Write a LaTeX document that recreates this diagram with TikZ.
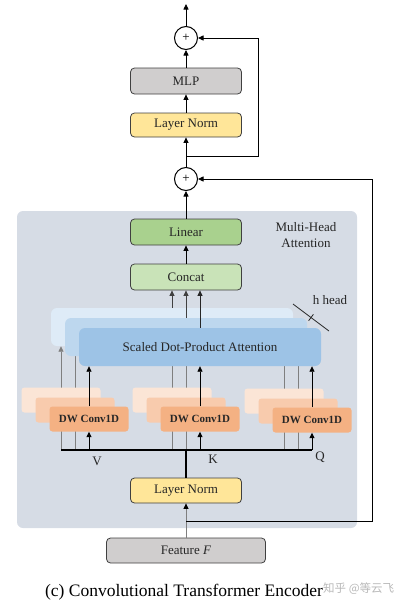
\documentclass[tikz,border=0pt]{standalone}
\usepackage{fontspec}
\setmainfont{Liberation Serif}
\newfontfamily\cjk{Noto Sans CJK SC}
\usetikzlibrary{arrows.meta}
\definecolor{bgblue}{HTML}{D6DCE5}
\definecolor{boxgray}{HTML}{D0CECE}
\definecolor{lnyellow}{HTML}{FFE699}
\definecolor{lingreen}{HTML}{A9D18E}
\definecolor{catgreen}{HTML}{C9E3B8}
\definecolor{sdpaF}{HTML}{9DC3E6}
\definecolor{sdpaM}{HTML}{BDD7EE}
\definecolor{sdpaB}{HTML}{DEEBF7}
\definecolor{dwF}{HTML}{F4B183}
\definecolor{dwM}{HTML}{F8CBAD}
\definecolor{dwB}{HTML}{FBE5D6}
\definecolor{edge}{HTML}{404040}
\definecolor{txt}{HTML}{262626}
\definecolor{lgray}{HTML}{7F7F7F}
\pgfdeclarelayer{bgzero}
\pgfdeclarelayer{bgone}
\pgfsetlayers{bgzero,bgone,main}
\tikzset{
  box/.style={draw=edge, line width=0.8pt, rounded corners=4pt, minimum width=111pt,
    minimum height=25pt, inner sep=0pt, font=\fontsize{13}{15}\selectfont, text=txt},
  sdlayer/.style={rounded corners=6pt, minimum width=242pt, minimum height=38pt, inner sep=0pt},
  dwbox/.style={rounded corners=3pt, minimum width=79pt, minimum height=25pt, inner sep=0pt,
    font=\fontsize{11}{13}\selectfont\bfseries, text=txt},
  arr/.style={-{Triangle[length=5.5pt,width=5pt]}, line width=0.8pt},
  garr/.style={-{Triangle[length=5.5pt,width=5pt]}, line width=0.8pt, lgray},
  gline/.style={line width=0.8pt, lgray},
  plusnode/.style={circle, draw, line width=1pt, minimum size=23pt, inner sep=0pt,
    font=\fontsize{13}{15}\selectfont},
  lbl/.style={font=\fontsize{13}{15}\selectfont, text=txt, inner sep=0pt}
}
\begin{document}
\begin{tikzpicture}[x=1pt,y=-1pt]
\useasboundingbox (0,0) rectangle (416,605);

% background of multi-head attention
\begin{pgfonlayer}{bgzero}
\node[fill=bgblue, rounded corners=6pt, minimum width=340pt, minimum height=317pt, inner sep=0pt] (mha) at (187,369.5) {};
\end{pgfonlayer}

% top part
\node[plusnode] (p1) at (186,38) {+};
\node[box, fill=boxgray, minimum height=26pt] (mlp) at (186,81) {MLP};
\node[box, fill=lnyellow, minimum height=24pt] (ln2) at (186,125) {Layer Norm};
\node[plusnode] (p2) at (186,179) {+};
\node[box, fill=lingreen, minimum height=26pt] (lin) at (186,232) {Linear};
\node[box, fill=catgreen, minimum height=26pt] (cat) at (186,277) {Concat};
\node[lbl, align=center] (mhat) at (306,235) {Multi-Head\\[1pt]Attention};

% scaled dot-product attention layers
\node[sdlayer, fill=sdpaB] (sdB) at (172,327) {};
\node[sdlayer, fill=sdpaM] (sdM) at (186,337) {};
\node[sdlayer, fill=sdpaF, font=\fontsize{13}{15}\selectfont, text=txt] (sdF) at (200,347) {Scaled Dot-Product Attention};

% h head
\coordinate (hh1) at (293,304);
\coordinate (hh2) at (329,331);
\coordinate (hht1) at (308.6,320.7);
\coordinate (hht2) at (313.4,314.3);
\draw[line width=0.8pt, txt] (hh1) -- (hh2);
\draw[line width=0.8pt, txt] (hht1) -- (hht2);
\node[lbl] (hh) at (330,300) {h head};

% DW Conv1D groups
\node[dwbox, fill=dwB] (vB) at (61,400) {};
\node[dwbox, fill=dwM] (vM) at (75,410) {};
\node[dwbox, fill=dwF] (vF) at (89,419) {DW Conv1D};
\node[dwbox, fill=dwB] (kB) at (172,400) {};
\node[dwbox, fill=dwM] (kM) at (186,410) {};
\node[dwbox, fill=dwF] (kF) at (200,419) {DW Conv1D};
\node[dwbox, fill=dwB] (qB) at (284,401) {};
\node[dwbox, fill=dwM] (qM) at (298,411) {};
\node[dwbox, fill=dwF] (qF) at (312,420) {DW Conv1D};

\coordinate (bus) at (186,450);

% grey lines behind boxes
\begin{pgfonlayer}{bgone}
\draw[garr] (vB |- bus) -- (sdB.south -| vB);
\draw[gline] (vM |- bus) -- (sdM.south -| vM);
\draw[gline] (kB |- bus) -- (sdB.south -| kB);
\draw[gline] (kM |- bus) -- (sdM.south -| kM);
\draw[gline] (qB |- bus) -- (sdB.south -| qB);
\draw[gline] (qM |- bus) -- (sdM.south -| qM);
\end{pgfonlayer}

% bus and black arrows
\draw[line width=1.2pt] (vB |- bus) -- (qF |- bus);
\draw[arr] (vF |- bus) -- (vF.south);
\draw[arr] (kF |- bus) -- (kF.south);
\draw[arr] (qF |- bus) -- (qF.south);
\draw[arr] (vF.north) -- (sdF.south -| vF);
\draw[arr] (kF.north) -- (sdF.south -| kF);
\draw[arr] (qF.north) -- (sdF.south -| qF);

\node[lbl] (lV) at (97,461) {V};
\node[lbl] (lK) at (213,459) {K};
\node[lbl] (lQ) at (320,457) {Q};

% to concat
\draw[arr, black!75] (sdB.north) -- (cat.south -| sdB);
\draw[arr, black!75] (sdM.north) -- (cat.south -| sdM);
\draw[arr, black!85] (sdF.north) -- (cat.south -| sdF);

% lower layer norm and feature
\node[box, fill=lnyellow] (ln1) at (186,490.5) {Layer Norm};
\node[box, fill=boxgray, minimum width=159pt] (feat) at (186,550.5) {Feature \textit{F}};
\draw[line width=1.2pt] (ln1.north) -- (bus);
\draw[gline, -{Triangle[length=5.5pt,width=5pt,color=black]}] (feat.north) -- (ln1.south);

% main chain
\coordinate (top) at (186,4);
\draw[arr] (p1.north) -- (top);
\draw[arr] (mlp.north) -- (p1.south);
\draw[arr] (ln2.north) -- (mlp.south);
\draw[arr] (p2.north) -- (ln2.south);
\draw[arr] (lin.north) -- (p2.south);
\draw[arr] (cat.north) -- (lin.south);

% residuals
\coordinate (r1s) at (186,156);
\coordinate (r1c) at (258,156);
\draw[arr] (r1s) -- (r1c) |- (p1.east);
\coordinate (r2s) at (186,521);
\coordinate (r2c) at (372,521);
\draw[arr] (r2s) -- (r2c) |- (p2.east);

% caption
\node[font=\fontsize{17.5}{20}\selectfont, inner sep=0pt] (cap) at (184,592) {(c) Convolutional Transformer Encoder};
\node[anchor=west, text=black!28, font=\cjk\fontsize{11.5}{13}\selectfont, inner sep=0pt] (wm) at (323,589) {知乎 @等云飞};
\end{tikzpicture}
\end{document}
